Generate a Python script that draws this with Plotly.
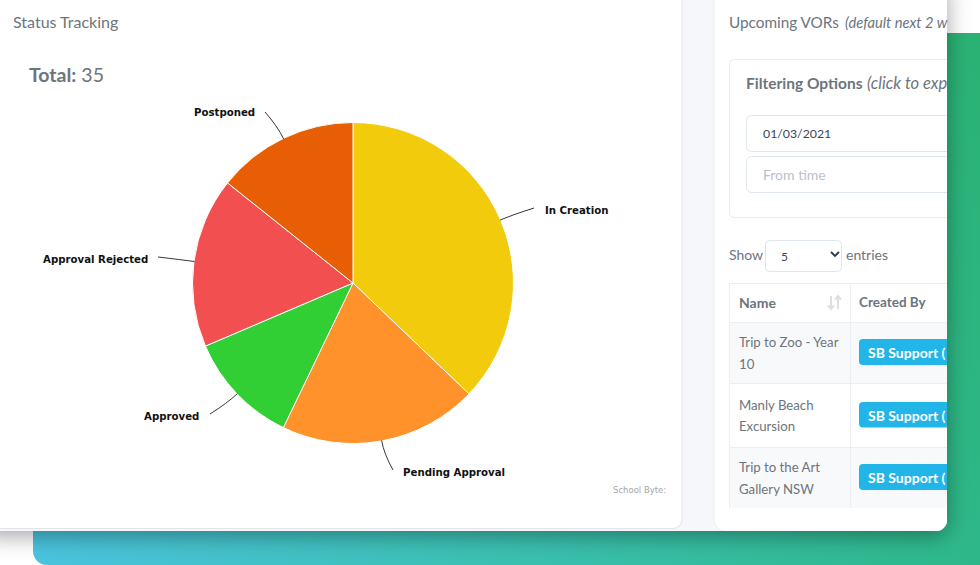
import base64
import math
import plotly.graph_objects as go

W = 980
H = 565

statuses = ["In Creation", "Pending Approval", "Approved", "Approval Rejected", "Postponed"]
counts = [13, 7, 4, 6, 5]
colors = ["#F2CC0C", "#FF922B", "#31CF33", "#F25050", "#E85E04"]

table_names = [["Trip to Zoo - Year", "10"], ["Manly Beach", "Excursion"], ["Trip to the Art", "Gallery NSW"]]
table_creator = "SB Support ("

# pie placement in pixels
cx = 353
cy = 283
r = 160

# where each leader line ends and where its label sits
label_ends = [(534, 208), (393, 470), (210, 414), (158, 257), (265, 112)]
label_pos = [(545, 210, "left"), (403, 472, "left"), (199, 416, "right"), (148, 259, "right"), (255, 113, "right")]


def px(x):
    return x / W


def py(y):
    return 1 - y / H


# page background: gradient panel, dashboard and cards
svg = f"""<svg xmlns="http://www.w3.org/2000/svg" width="{W}" height="{H}" viewBox="0 0 {W} {H}">
<defs>
<linearGradient id="g" gradientUnits="userSpaceOnUse" x1="33" y1="565" x2="980" y2="33">
<stop offset="0" stop-color="#4AC3DE"/><stop offset="0.35" stop-color="#3CC0B4"/>
<stop offset="0.7" stop-color="#2FB98F"/><stop offset="1" stop-color="#2AB273"/></linearGradient>
<filter id="s" x="-10%" y="-10%" width="120%" height="120%">
<feDropShadow dx="0" dy="5" stdDeviation="11" flood-color="#000" flood-opacity="0.36"/></filter>
<clipPath id="c"><rect x="-20" y="-20" width="967" height="551" rx="11"/></clipPath>
</defs>
<rect width="{W}" height="{H}" fill="#fff"/>
<rect x="33" y="33" width="990" height="532" rx="14" fill="url(#g)"/>
<rect x="-20" y="-20" width="967" height="551" rx="11" fill="#F5F7FB" filter="url(#s)"/>
<g clip-path="url(#c)">
<rect x="-20" y="-20" width="702" height="548.5" rx="9" fill="#fff" stroke="#E3E5EA"/>
<rect x="714" y="-20" width="260" height="551" rx="11" fill="#fff" stroke="#E8EAEE" stroke-width="0.8"/>
<rect x="729.5" y="59.5" width="260" height="158" rx="5" fill="#fff" stroke="#E9EBEF"/>
<rect x="746.5" y="115.5" width="260" height="36" rx="5" fill="#fff" stroke="#DFE6EE"/>
<rect x="746.5" y="156.5" width="260" height="36" rx="5" fill="#fff" stroke="#DFE6EE"/>
<rect x="765.5" y="240.5" width="76" height="31" rx="4" fill="#fff" stroke="#DFE6EE"/>
<path d="M 831 252 L 835 256 L 839 252" fill="none" stroke="#2B3550" stroke-width="1.8"/>
<rect x="729.5" y="283.5" width="260" height="224" fill="#fff" stroke="#ECEEF1"/>
<rect x="730" y="322" width="259" height="61" fill="#F8F9FB"/>
<rect x="730" y="447" width="259" height="61" fill="#F8F9FB"/>
<path d="M 729 322.5 H 989 M 729 383.5 H 989 M 729 447.5 H 989 M 850.5 283 V 508" stroke="#ECEEF1" fill="none"/>
<path d="M 831 296 V 309 M 828 305.5 L 831 309 L 834 305.5 M 838 309 V 296 M 835 299.5 L 838 296 L 841 299.5"
 fill="none" stroke="#DDDFE2" stroke-width="2"/>
<rect x="859" y="339" width="120" height="26" rx="4" fill="#22B5E8"/>
<rect x="859" y="402" width="120" height="25.5" rx="4" fill="#22B5E8"/>
<rect x="859" y="464" width="120" height="26" rx="4" fill="#22B5E8"/>
</g>
</svg>"""
bg_uri = "data:image/svg+xml;base64," + base64.b64encode(svg.encode()).decode()

fig = go.Figure()
fig.add_trace(go.Pie(
    labels=statuses,
    values=counts,
    sort=False,
    direction="clockwise",
    rotation=0,
    textinfo="none",
    hoverinfo="label+value",
    marker=dict(colors=colors, line=dict(color="#FFFFFF", width=1)),
    domain=dict(x=[px(cx - r - 0.5), px(cx + r + 0.5)], y=[py(cy + r + 0.5), py(cy - r - 0.5)]),
    showlegend=False,
))

annotations = []


def add_text(x, y, text, size=14, color="#6C757D", anchor="left", family="Lato"):
    # annotation boxes carry a couple of px of padding, take it back out
    dx = -2 if anchor == "left" else 2
    annotations.append(dict(
        x=px(x + dx), y=py(y), xref="paper", yref="paper", text=text, showarrow=False,
        xanchor=anchor, yanchor="middle", align=anchor,
        font=dict(size=size, color=color, family=family),
    ))


add_text(13, 22, "Status Tracking", 16)
add_text(29, 75, "<b>Total:</b> 35", 19.5)
add_text(613, 490, "School Byte:", 8.5, "#A3A6AA", family="DejaVu Sans")

add_text(729, 22, "Upcoming VORs", 15.3)
add_text(845, 22, "<i>(default next 2 w</i>", 14.7)
add_text(746, 83, "<b>Filtering Options</b>", 15.5)
add_text(867, 83, "<i>(click to exp</i>", 16.5)
add_text(763, 134, "01/03/2021", 12.3, "#3E4560")
add_text(763, 174, "From time", 14, "#B9BFCF")
add_text(729, 254, "Show", 14)
add_text(781, 256, "5", 12, "#3E4560")
add_text(846, 254, "entries", 14)
add_text(739, 302, "<b>Name</b>", 14)
add_text(859, 302, "<b>Created By</b>", 13.5)

row_y = [(342, 364), (405, 426), (467, 489)]
button_y = [352, 415, 477]
for name, ys, by in zip(table_names, row_y, button_y):
    add_text(739, ys[0], name[0], 13.2)
    add_text(739, ys[1], name[1], 13.2)
    add_text(868, by, "<b>" + table_creator + "</b>", 14, "#FFFFFF")

# slice labels and leader lines
shapes = []
total = sum(counts)
run = 0
for name, n, end, pos in zip(statuses, counts, label_ends, label_pos):
    angle = (run + n / 2) / total * 2 * math.pi
    run += n
    x0 = cx + r * math.sin(angle)
    y0 = cy - r * math.cos(angle)
    # control point pulled outward along the slice direction
    c1 = (cx + (r + 14) * math.sin(angle), cy - (r + 14) * math.cos(angle))
    path = "M {:.1f} {:.3f} Q {:.1f} {:.3f} {:.1f} {:.3f}".format(
        px(x0) * W, py(y0) * H, px(c1[0]) * W, py(c1[1]) * H, end[0], py(end[1]) * H)
    shapes.append(dict(type="path", xref="x", yref="y", path=path,
                       line=dict(color="#33363B", width=1)))
    add_text(pos[0], pos[1], "<b>" + name + "</b>", 10.2, "#111111", pos[2], "DejaVu Sans")

fig.update_layout(
    width=W,
    height=H,
    margin=dict(l=0, r=0, t=0, b=0),
    paper_bgcolor="#FFFFFF",
    plot_bgcolor="rgba(0,0,0,0)",
    xaxis=dict(range=[0, W], visible=False, fixedrange=True),
    yaxis=dict(range=[0, H], visible=False, fixedrange=True),
    images=[dict(source=bg_uri, xref="paper", yref="paper", x=0, y=1, sizex=1, sizey=1,
                 xanchor="left", yanchor="top", sizing="stretch", layer="below")],
    shapes=shapes,
    annotations=annotations,
)

fig.write_html("out.html", config={"displayModeBar": False},
               post_script="document.body.style.margin='0';document.body.style.overflow='hidden';")
